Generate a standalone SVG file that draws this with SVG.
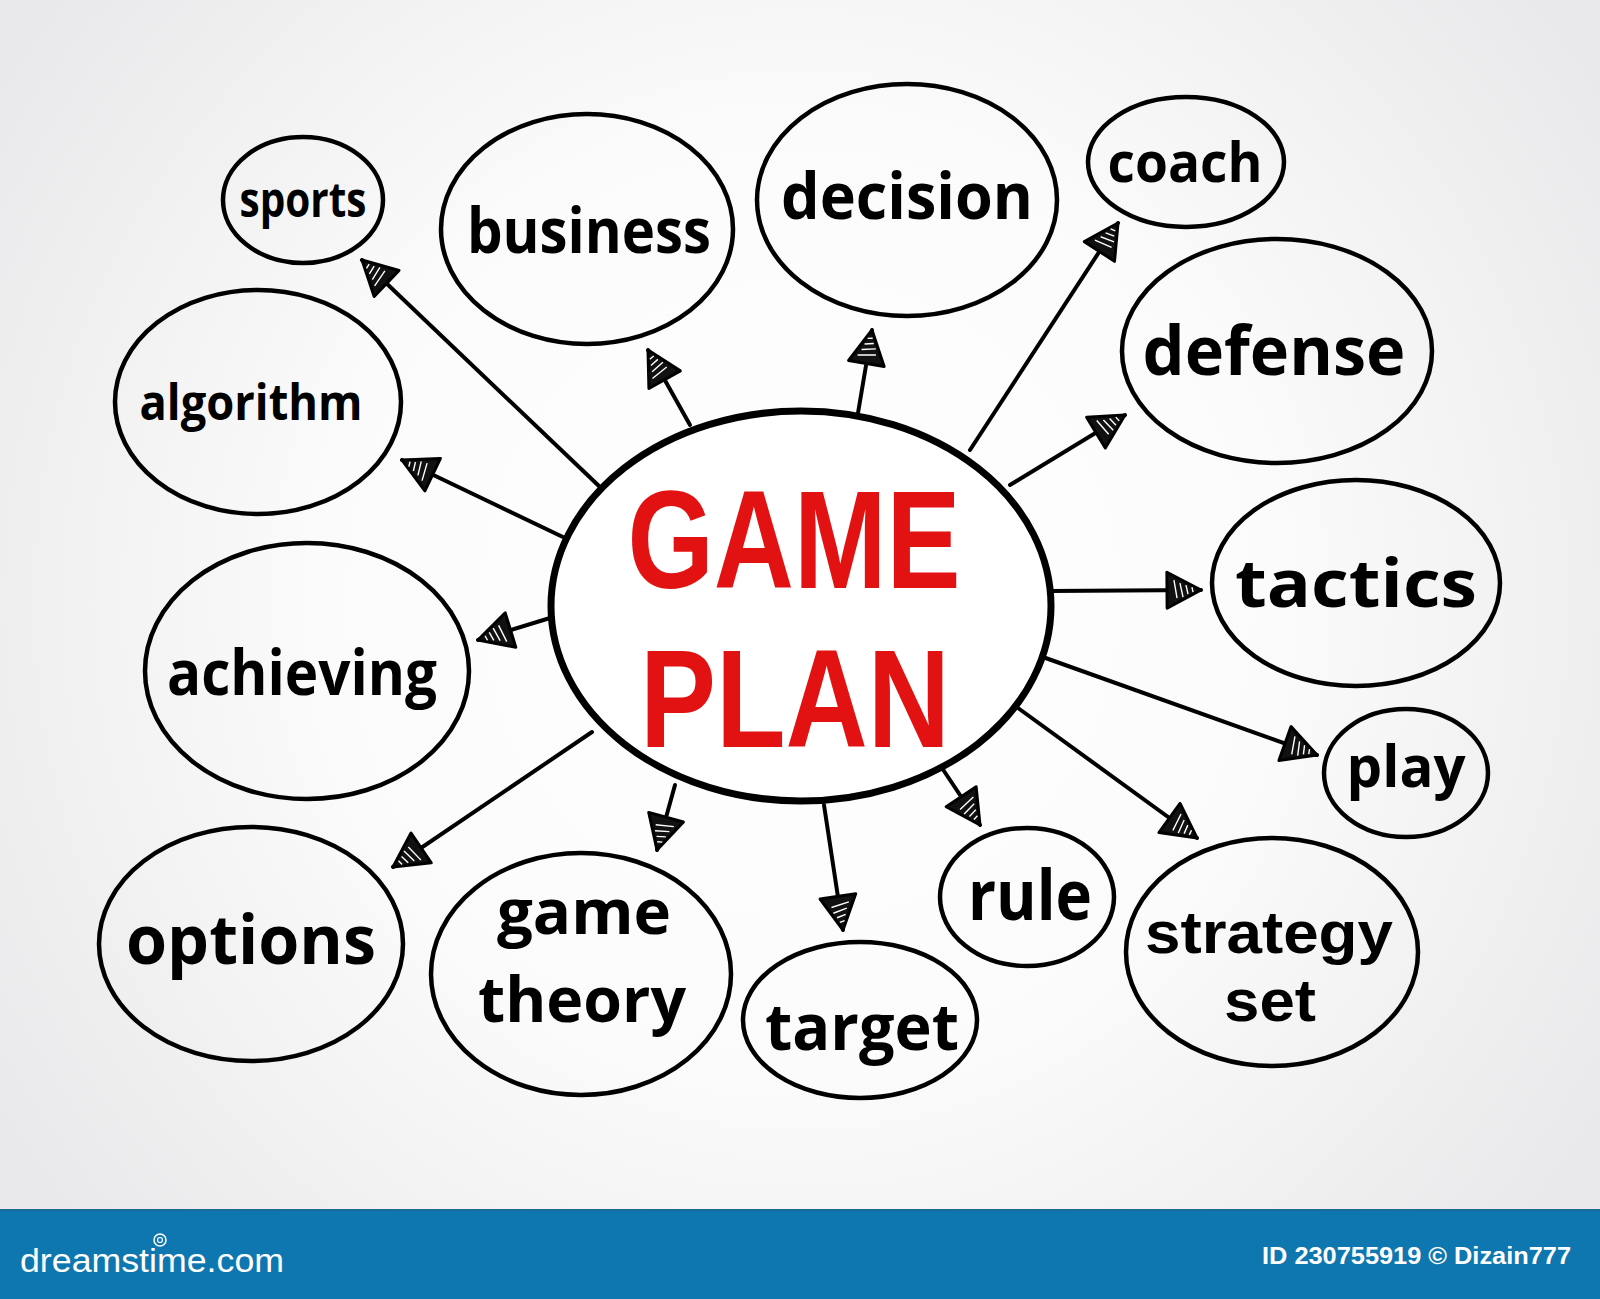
<svg xmlns="http://www.w3.org/2000/svg" width="1600" height="1299" viewBox="0 0 1600 1299">
  <defs>
    <radialGradient id="bg" cx="800" cy="600" r="950" gradientUnits="userSpaceOnUse">
      <stop offset="0" stop-color="#ffffff"/>
      <stop offset="0.5" stop-color="#fbfbfb"/>
      <stop offset="1" stop-color="#e9e9eb"/>
    </radialGradient>
    <marker id="ah" viewBox="-3 -3 42 42" refX="36" refY="18" markerWidth="42" markerHeight="42" markerUnits="userSpaceOnUse" orient="auto">
      <path d="M36,18 L2,0 L2,36 Z" fill="#111" stroke="#000" stroke-width="3" stroke-linejoin="round"/>
      <path d="M9,8 L12,26 M15,11 L18,25 M21,13 L23,22 M27,15 L28,20" stroke="#fff" stroke-width="1.4" fill="none"/>
    </marker>
  </defs>
  <style>
    .node { fill: none; stroke: #000; stroke-width: 4.5; }
    .lbl { font-family: "Open Sans", "Liberation Sans", sans-serif; font-weight: 700; fill: #000; text-anchor: middle; }
    .lbl2 { font-family: "Liberation Sans", "Open Sans", sans-serif; font-weight: 700; fill: #000; text-anchor: middle; }
    .title { font-family: "Liberation Sans", "Open Sans", sans-serif; font-weight: 700; fill: #e31212; text-anchor: middle; }
    .conn line { stroke: #000; stroke-width: 4; stroke-linecap: round; marker-end: url(#ah); }
    .ban { font-family: "Liberation Sans", "Open Sans", sans-serif; fill: #fff; }
  </style>

  <rect x="0" y="0" width="1600" height="1299" fill="url(#bg)"/>

  <g id="connectors" class="conn">
    <line x1="600" y1="487" x2="362" y2="260"/>
    <line x1="690" y1="425" x2="648" y2="350"/>
    <line x1="858" y1="413" x2="872" y2="330"/>
    <line x1="970" y1="450" x2="1118" y2="223"/>
    <line x1="1010" y1="485" x2="1125" y2="415"/>
    <line x1="1050" y1="591" x2="1201" y2="590"/>
    <line x1="1040" y1="656" x2="1317" y2="755"/>
    <line x1="1018" y1="708" x2="1197" y2="838"/>
    <line x1="942" y1="768" x2="980" y2="825"/>
    <line x1="824" y1="805" x2="843" y2="930"/>
    <line x1="675" y1="785" x2="657" y2="850"/>
    <line x1="592" y1="732" x2="393" y2="867"/>
    <line x1="550" y1="618" x2="478" y2="640"/>
    <line x1="565" y1="538" x2="402" y2="460"/>
  </g>

  <g id="center">
    <ellipse cx="801" cy="606" rx="250" ry="195" fill="#fff" stroke="#000" stroke-width="7"/>
    <text class="title" font-size="140"><tspan x="794" y="588" textLength="333" lengthAdjust="spacingAndGlyphs">GAME</tspan><tspan x="795" y="747" textLength="310" lengthAdjust="spacingAndGlyphs">PLAN</tspan></text>
  </g>

  <g id="node-sports">
    <ellipse class="node" cx="303" cy="200" rx="80" ry="63"/>
    <text class="lbl" x="303" y="217" font-size="48" textLength="127" lengthAdjust="spacingAndGlyphs">sports</text>
  </g>
  <g id="node-business">
    <ellipse class="node" cx="587" cy="229" rx="146" ry="115"/>
    <text class="lbl" x="589" y="253" font-size="62" textLength="244" lengthAdjust="spacingAndGlyphs">business</text>
  </g>
  <g id="node-decision">
    <ellipse class="node" cx="907" cy="200" rx="150" ry="116"/>
    <text class="lbl" x="907" y="219" font-size="64" textLength="252" lengthAdjust="spacingAndGlyphs">decision</text>
  </g>
  <g id="node-coach">
    <ellipse class="node" cx="1186" cy="162" rx="98" ry="65"/>
    <text class="lbl" x="1185" y="182" font-size="56" textLength="155" lengthAdjust="spacingAndGlyphs">coach</text>
  </g>
  <g id="node-defense">
    <ellipse class="node" cx="1277" cy="351" rx="155" ry="112"/>
    <text class="lbl" x="1274" y="375" font-size="68" textLength="263" lengthAdjust="spacingAndGlyphs">defense</text>
  </g>
  <g id="node-tactics">
    <ellipse class="node" cx="1356" cy="583" rx="144" ry="103"/>
    <text class="lbl" x="1356" y="607" font-size="66" textLength="242" lengthAdjust="spacingAndGlyphs">tactics</text>
  </g>
  <g id="node-play">
    <ellipse class="node" cx="1406" cy="773" rx="82" ry="64"/>
    <text class="lbl" x="1406" y="787" font-size="58" textLength="119" lengthAdjust="spacingAndGlyphs">play</text>
  </g>
  <g id="node-strategy-set">
    <ellipse class="node" cx="1272" cy="952" rx="146" ry="114"/>
    <text class="lbl2" font-size="60"><tspan x="1269" y="953" textLength="248" lengthAdjust="spacingAndGlyphs">strategy</tspan><tspan x="1270" y="1021" textLength="92" lengthAdjust="spacingAndGlyphs">set</tspan></text>
  </g>
  <g id="node-rule">
    <ellipse class="node" cx="1027" cy="897" rx="87" ry="69"/>
    <text class="lbl" x="1030" y="920" font-size="70" textLength="124" lengthAdjust="spacingAndGlyphs">rule</text>
  </g>
  <g id="node-target">
    <ellipse class="node" cx="860" cy="1020" rx="117" ry="78"/>
    <text class="lbl" x="862" y="1050" font-size="64" textLength="194" lengthAdjust="spacingAndGlyphs">target</text>
  </g>
  <g id="node-game-theory">
    <ellipse class="node" cx="581" cy="974" rx="150" ry="121"/>
    <text class="lbl" font-size="63"><tspan x="584" y="934" textLength="174" lengthAdjust="spacingAndGlyphs">game</tspan><tspan x="582" y="1022" textLength="208" lengthAdjust="spacingAndGlyphs">theory</tspan></text>
  </g>
  <g id="node-options">
    <ellipse class="node" cx="251" cy="944" rx="152" ry="117"/>
    <text class="lbl" x="251" y="964" font-size="68" textLength="250" lengthAdjust="spacingAndGlyphs">options</text>
  </g>
  <g id="node-achieving">
    <ellipse class="node" cx="307" cy="671" rx="162" ry="128"/>
    <text class="lbl" x="302" y="695" font-size="62" textLength="270" lengthAdjust="spacingAndGlyphs">achieving</text>
  </g>
  <g id="node-algorithm">
    <ellipse class="node" cx="258" cy="402" rx="143" ry="112"/>
    <text class="lbl" x="251" y="420" font-size="50" textLength="223" lengthAdjust="spacingAndGlyphs">algorithm</text>
  </g>

  <g id="banner">
    <rect x="0" y="1209" width="1600" height="90" fill="#0f77b0"/>
    <rect x="0" y="1209" width="1600" height="2" fill="#1c6a98"/>
    <text class="ban" x="20" y="1272" font-size="34" textLength="264" lengthAdjust="spacingAndGlyphs">dreamstime.com</text>
    <circle cx="160" cy="1240" r="6" fill="none" stroke="#fff" stroke-width="1.5"/>
    <circle cx="160" cy="1240" r="2.5" fill="none" stroke="#fff" stroke-width="1.2"/>
    <text class="ban" x="1262" y="1264" font-size="23" font-weight="700" textLength="309" lengthAdjust="spacingAndGlyphs">ID 230755919 © Dizain777</text>
  </g>
</svg>
